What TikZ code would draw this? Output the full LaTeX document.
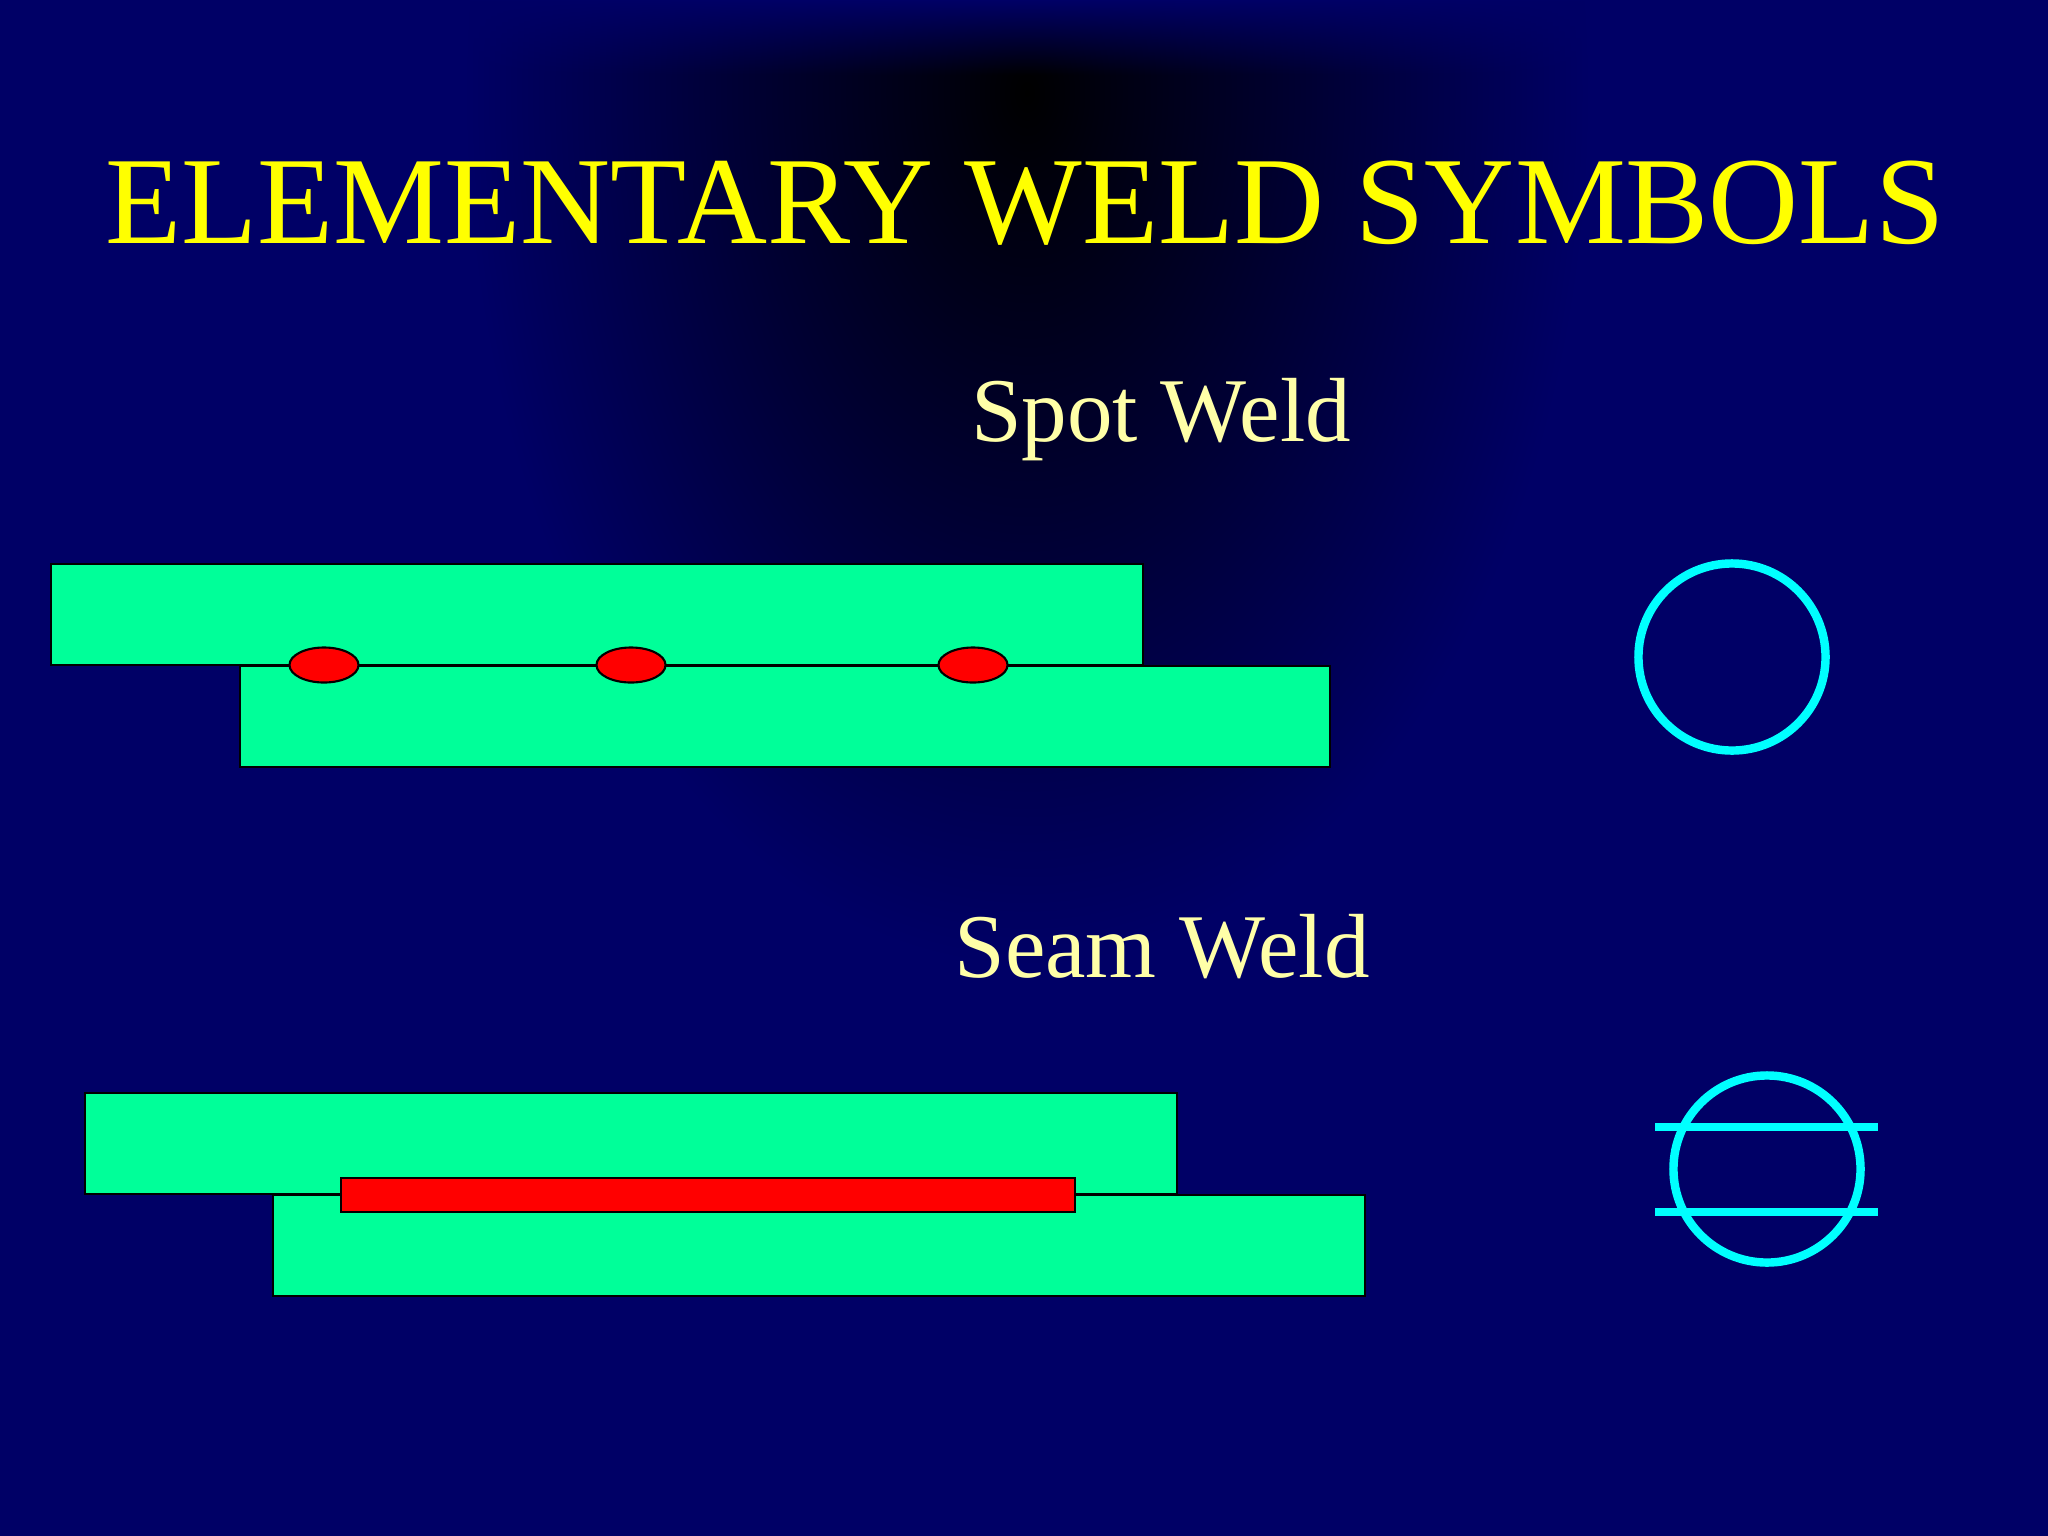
\documentclass[tikz,border=0pt]{standalone}
\usepackage{xcolor}
\usepackage{fontspec}
\usetikzlibrary{shapes.geometric,fadings}
\setmainfont{Liberation Serif}
\definecolor{slidenavy}{HTML}{000066}
\definecolor{platecol}{HTML}{00FF99}
\definecolor{symbcol}{HTML}{00FFFF}
\definecolor{titlecol}{HTML}{FFFF00}
\definecolor{subcol}{HTML}{FFFFA8}
\pgfdeclareradialshading{glow}{\pgfpoint{0bp}{0bp}}{%
  color(0bp)=(black);
  color(3bp)=(black!85!slidenavy);
  color(11bp)=(black!50!slidenavy);
  color(22bp)=(slidenavy);
  color(50bp)=(slidenavy)}
\tikzset{
  plate/.style={draw=black,line width=0.35pt,fill=platecol},
  weld/.style={draw=black,line width=0.6pt,fill=red,inner sep=0pt},
  symb/.style={draw=symbcol,line width=2.4pt},
  subtitle/.style={text=subcol,font=\fontsize{25.9}{30}\selectfont,anchor=base},
}
\begin{document}
\begin{tikzpicture}[x=0.01cm,y=-0.01cm]
\useasboundingbox (0,0) rectangle (2048,1536);
\fill[slidenavy] (0,0) rectangle (2048,1536);
% dark patch behind the title
\begin{scope}
\clip (0,0) rectangle (2048,1536);
\path[shading=glow] (387,-900) rectangle (1667,1086);
\end{scope}
\fill[slidenavy,path fading=south] (0,0) rectangle (2048,75);
% titles
\node[text=titlecol,font=\fontsize{35.45}{40}\selectfont,anchor=base] (title) at (1025,243) {ELEMENTARY WELD SYMBOLS};
\node[subtitle] (spot) at (1161,441) {Spot Weld};
\node[subtitle] (seam) at (1162,977) {Seam Weld};
% spot weld
\draw[plate] (51,564) rectangle (1143,665);
\draw[plate] (240,666) rectangle (1330,767);
\foreach \x/\n in {324/a,631/b,973/c}
  \node[weld,shape=ellipse,minimum width=0.69cm,minimum height=0.35cm] (spot\n) at (\x,665) {};
\node[symb,shape=circle,inner sep=0pt,minimum size=1.87cm] (spotsym) at (1732,657) {};
% seam weld
\draw[plate] (85,1093) rectangle (1177,1194);
\draw[plate] (273,1195) rectangle (1365,1296);
\node[weld,minimum width=7.34cm,minimum height=0.345cm] (seamrect) at (708,1195) {};
\node[symb,shape=circle,inner sep=0pt,minimum size=1.87cm] (seamsym) at (1767,1169) {};
\coordinate (la) at (1655,1127);
\coordinate (lb) at (1878,1127);
\coordinate (lc) at (1655,1212);
\coordinate (ld) at (1878,1212);
\draw[symb] (la) -- (lb);
\draw[symb] (lc) -- (ld);
\end{tikzpicture}
\end{document}
